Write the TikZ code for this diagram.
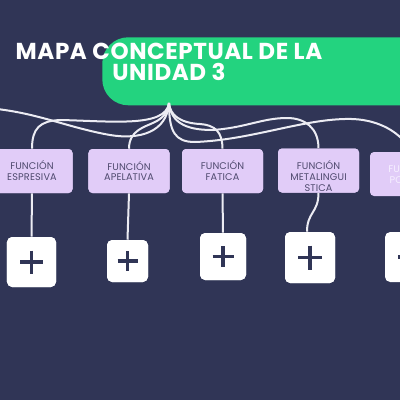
\documentclass[tikz,border=0pt]{standalone}
\usepackage{fontspec}
\setmainfont{Poppins}
\definecolor{bg}{HTML}{303556}
\definecolor{pillgreen}{HTML}{23D37F}
\definecolor{lav}{HTML}{E1CCF8}
\definecolor{lavtext}{HTML}{4F4A6E}
\definecolor{lavlight}{HTML}{F6F0FF}
\definecolor{connc}{HTML}{ECECF3}
\begin{document}
\begin{tikzpicture}[x=0.25mm,y=-0.25mm,
  funcbox/.style={fill=lav, rounded corners=1mm, minimum width=20.25mm, minimum height=11mm, inner sep=0pt},
  functext/.style={text=lavtext, font=\fontsize{6.9}{7.8}\selectfont\addfontfeature{LetterSpace=1.5}, align=center, inner sep=0pt},
  plusbox/.style={fill=white, rounded corners=1.3mm, inner sep=0pt},
  plusline/.style={draw=bg, line width=0.85mm},
  conn/.style={draw=connc, line width=0.5mm}]
\useasboundingbox (0,0) rectangle (400,400);
\clip (0,0) rectangle (400,400);
\fill[bg] (0,0) rectangle (400,400);

% green header
\node[fill=pillgreen, rounded corners=6.5mm, minimum width=94.5mm, minimum height=17mm, inner sep=0pt, anchor=north west] (pill) at (102,37) {};
\node[text=white, font=\bfseries\fontsize{16.4}{14.5}\selectfont\addfontfeature{LetterSpace=2.5}, align=center, inner sep=0pt] (title) at (169,62) {MAPA CONCEPTUAL DE LA\\UNIDAD 3};
\coordinate (hub) at (169,103);
\coordinate (L) at (-3,109);
\coordinate (R) at (403,140);

% function boxes
\node[funcbox] (b1) at (32,171) {};
\node[funcbox] (b2) at (129,171) {};
\node[funcbox] (b3) at (222.5,171) {};
\node[funcbox] (b4) at (318.5,170.5) {};
\node[funcbox, minimum width=21mm] (b5) at (412,174) {};

% plus boxes
\node[plusbox, minimum width=12.25mm, minimum height=12.5mm] (p1) at (31.5,262) {};
\node[plusbox, minimum width=10.25mm, minimum height=10.5mm] (p2) at (127.5,261) {};
\node[plusbox, minimum width=11.5mm, minimum height=11.75mm] (p3) at (223,256.5) {};
\node[plusbox, minimum width=12.5mm, minimum height=12.75mm] (p4) at (310,257.5) {};
\node[plusbox, minimum width=12.5mm, minimum height=12.5mm] (p5) at (410,257) {};

% connectors from hub
\draw[conn] (hub) .. controls (167,132) and (140,140) .. (110,135) .. controls (70,128) and (40,114) .. (L);
\draw[conn] (b1.north) .. controls (32,128) and (40,121) .. (60,120) .. controls (110,121) and (166,128) .. (hub);
\draw[conn] (b2.north) .. controls (129,130) and (145,127) .. (155,122) .. controls (163,118) and (168,112) .. (hub);
\draw[conn] (hub) .. controls (170,115) and (180,123) .. (200,124) .. controls (215,125) and (222.5,132) .. (b3.north);
\draw[conn] (hub) .. controls (171,122) and (185,130) .. (212,130) .. controls (245,128) and (262,118) .. (287,118) .. controls (305,118) and (318.5,128) .. (b4.north);
\draw[conn] (hub) .. controls (169,132) and (175,142) .. (195,142) .. controls (250,140) and (300,120) .. (345,119) .. controls (372,118) and (392,128) .. (R);

% connectors down
\draw[conn] (b1.south) -- (p1.north);
\draw[conn] (b2.south) -- (p2.north);
\draw[conn] (b3.south) -- (p3.north);
\draw[conn] (b4.south) .. controls (318.5,213) and (307,212) .. ([xshift=-0.75mm]p4.north);

% redraw boxes on top
\node[funcbox] at (b1) {};
\node[funcbox] at (b2) {};
\node[funcbox] at (b3) {};
\node[funcbox] at (b4) {};
\node[plusbox, minimum width=12.25mm, minimum height=12.5mm] at (p1) {};
\node[plusbox, minimum width=10.25mm, minimum height=10.5mm] at (p2) {};
\node[plusbox, minimum width=11.5mm, minimum height=11.75mm] at (p3) {};
\node[plusbox, minimum width=12.5mm, minimum height=12.75mm] at (p4) {};

% texts
\node[functext] (t1) at (32,171) {FUNCIÓN\\ESPRESIVA};
\node[functext] (t2) at (129,171) {FUNCIÓN\\APELATIVA};
\node[functext] (t3) at (222.5,171) {FUNCIÓN\\FATICA};
\node[functext] (t4) at (318.5,176.5) {FUNCIÓN\\METALINGUI\\STICA};
\node[functext, text=lavlight] (t5) at (410,174) {FUNCIÓN\\POÉTICA};

% plus signs
\draw[plusline] (p1.center) +(-11.5,0) -- +(11.5,0) (p1.center) +(0,-11.5) -- +(0,11.5);
\draw[plusline] (p2.center) +(-10,0) -- +(10,0) (p2.center) +(0,-10) -- +(0,10);
\draw[plusline] (p3.center) +(-10.5,0) -- +(10.5,0) (p3.center) +(0,-10.5) -- +(0,10.5);
\draw[plusline] (p4.center) +(-12,0) -- +(12,0) (p4.center) +(0,-12) -- +(0,12);
\draw[plusline] (p5.center) +(-12,0) -- +(12,0) (p5.center) +(0,-12) -- +(0,12);
\end{tikzpicture}
\end{document}
